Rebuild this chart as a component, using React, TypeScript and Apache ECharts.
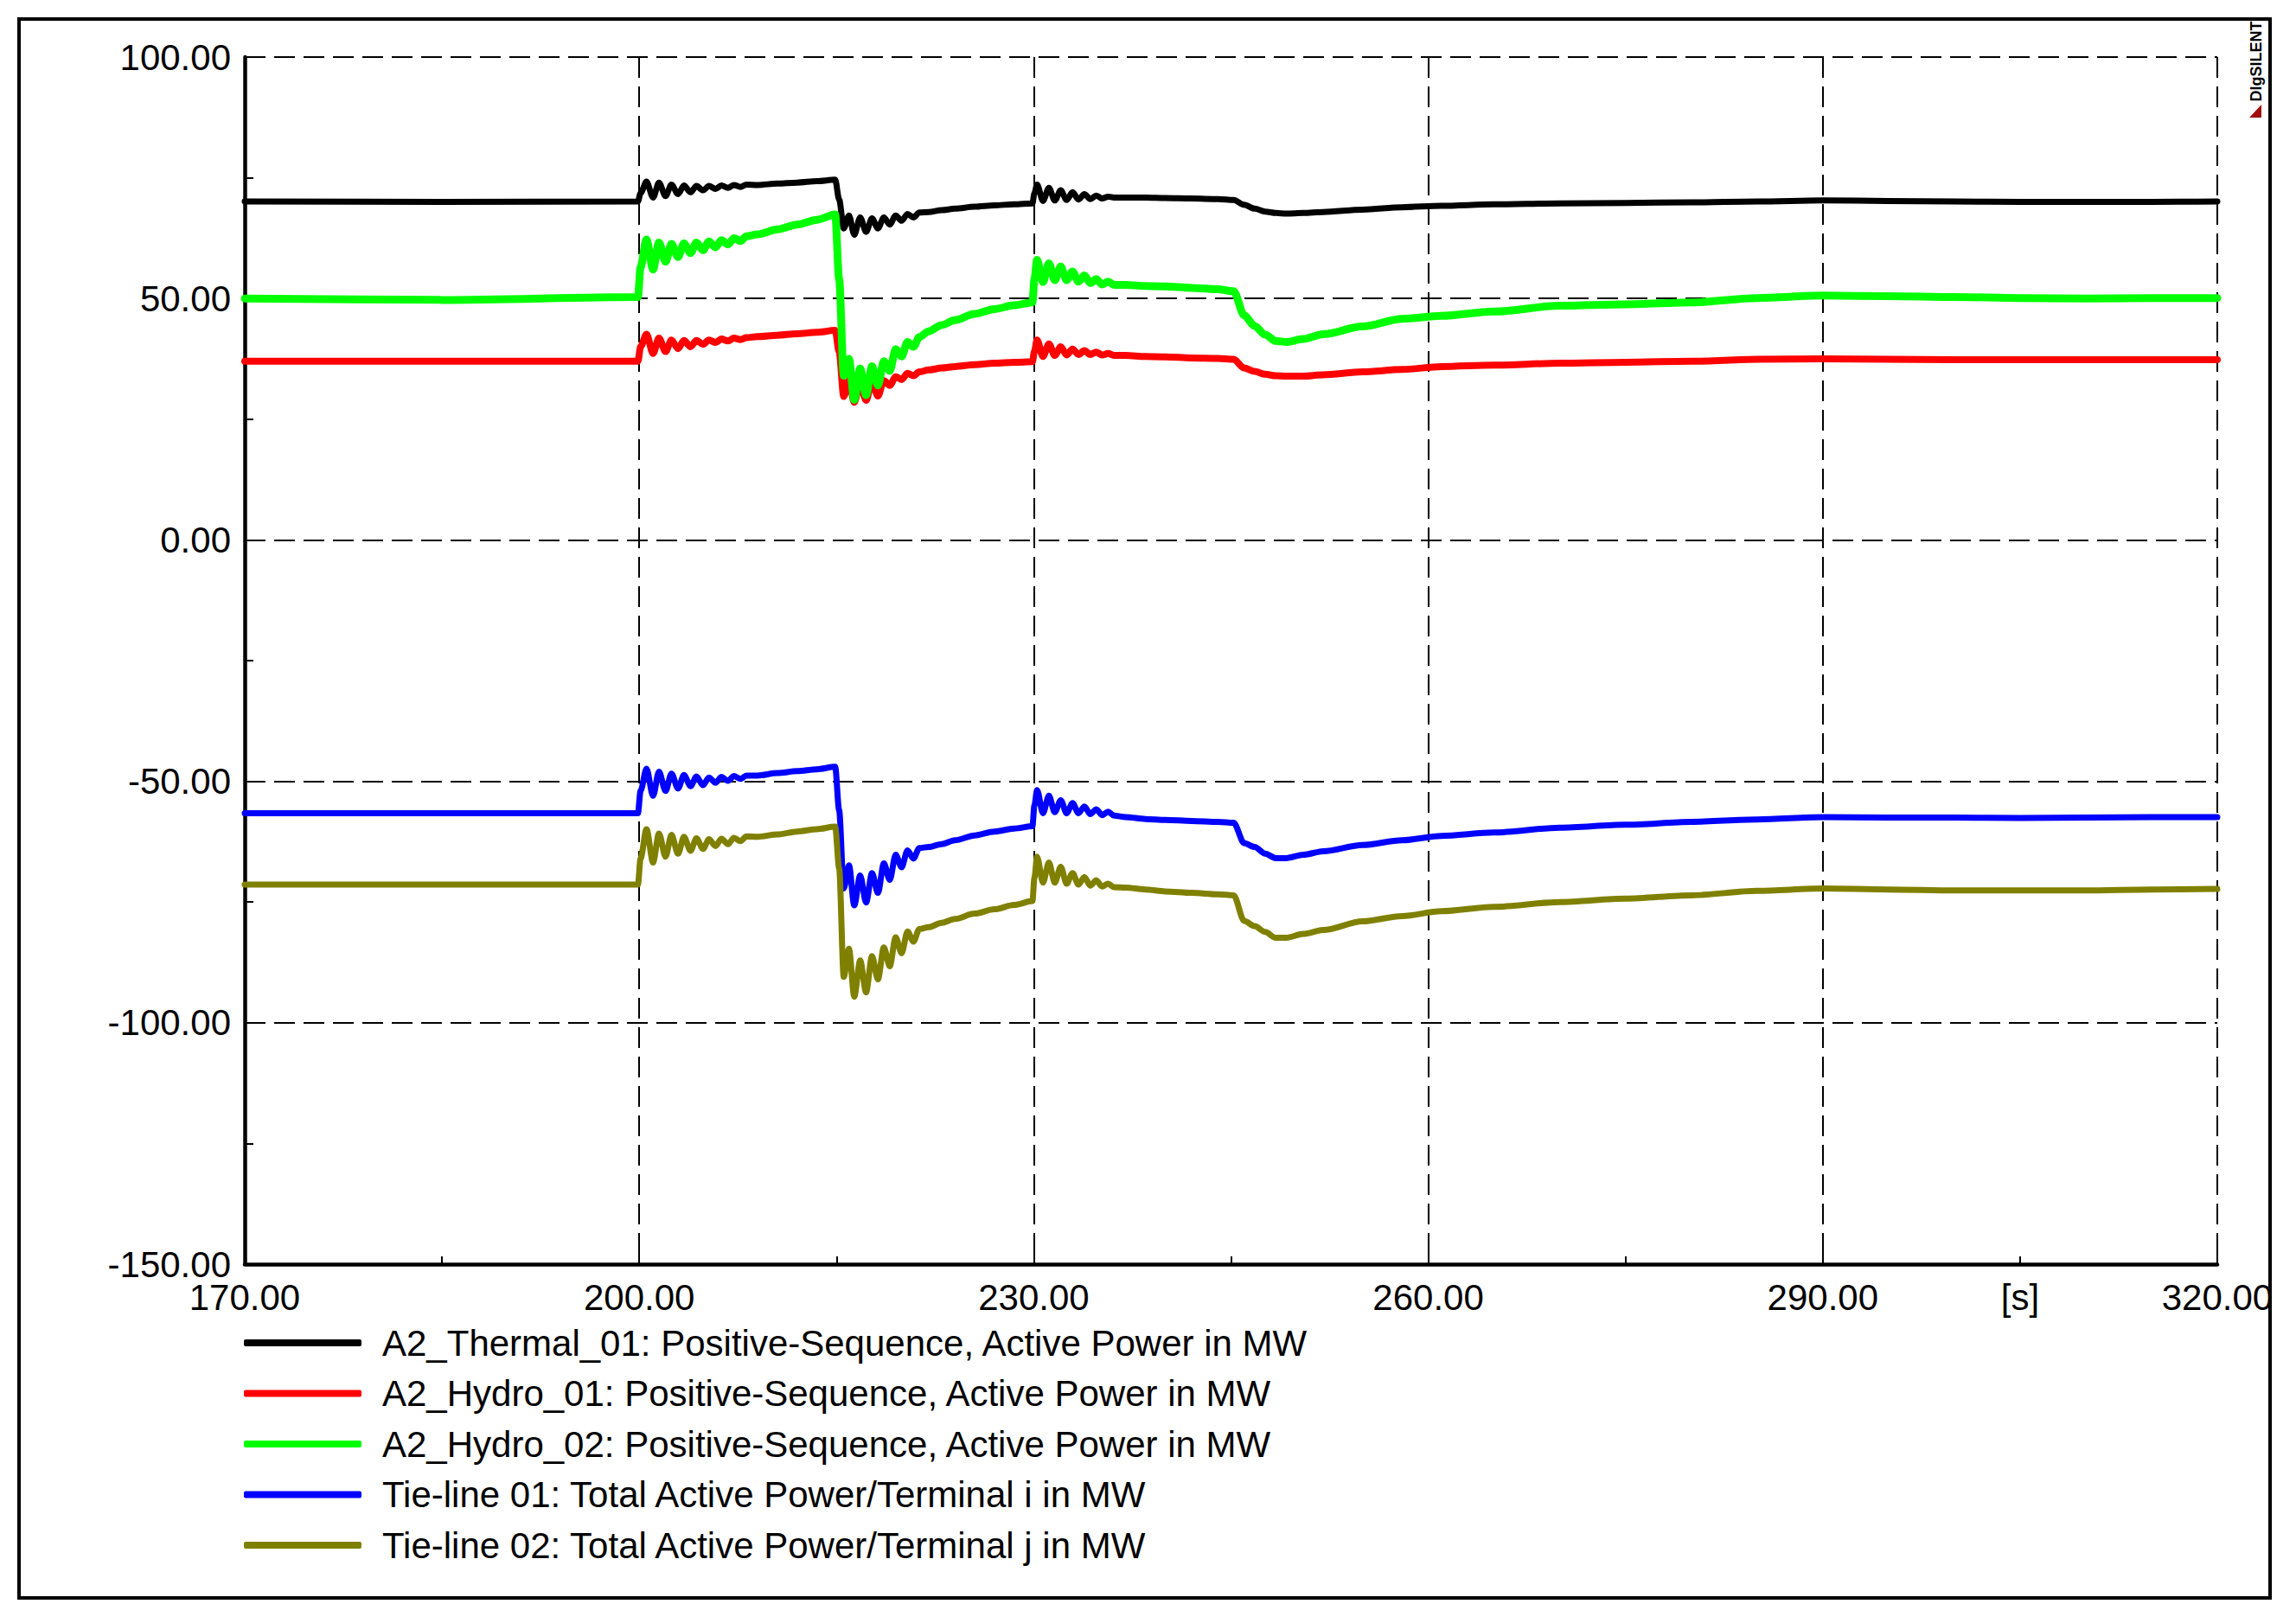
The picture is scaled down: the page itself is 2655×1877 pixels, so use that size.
import React, { useEffect, useRef } from "react";
import * as echarts from "echarts";

// ---- data ----
const time = [
  170, 185, 199.9,
  200.1, 200.55, 201.05, 201.5, 202.0, 202.45, 202.95, 203.4, 203.9, 204.35, 204.85, 205.3, 205.8, 206.25, 206.75, 207.2, 207.7, 208.15,
  209, 210.5, 212, 213.5, 214.9,
  215.2, 215.55, 215.95, 216.35, 216.8, 217.25, 217.7, 218.15, 218.6, 219.05, 219.5, 219.95, 220.4, 220.85, 221.3,
  222, 223, 224, 225.5, 227, 228.5, 229.9,
  230.05, 230.25, 230.7, 231.15, 231.6, 232.05, 232.5, 232.95, 233.4, 233.85, 234.3, 234.75, 235.2, 235.65, 236.1,
  237, 238.5, 240, 242, 244, 245.2,
  246, 246.8, 247.6, 248.4, 249.2, 250.5, 252, 255, 258, 261, 265, 270, 275, 280, 285, 290, 295, 300, 305, 310, 315, 320,
];

const thermal01 = [
  70.1, 70.0, 70.1,
  71.8, 74.2, 70.9, 74.0, 71.2, 73.6, 71.6, 73.4, 72.0, 73.3, 72.4, 73.3, 72.7, 73.4, 72.9, 73.5, 73.1, 73.6,
  73.5, 73.8, 74.0, 74.3, 74.6,
  70.5, 64.5, 67.2, 63.2, 66.8, 63.8, 66.6, 64.5, 66.8, 65.3, 67.2, 66.1, 67.5, 66.8, 67.8,
  67.9, 68.3, 68.6, 69.0, 69.3, 69.5, 69.7,
  71.8, 73.6, 70.2, 72.9, 70.3, 72.4, 70.4, 72.0, 70.5, 71.6, 70.6, 71.3, 70.7, 71.1, 70.9,
  70.9, 70.9, 70.8, 70.7, 70.6, 70.4,
  69.4, 68.6, 68.0, 67.7, 67.6, 67.7, 67.9, 68.4, 68.9, 69.2, 69.5, 69.7, 69.8, 69.9, 70.1, 70.3, 70.2, 70.1, 70.0, 70.0, 70.0, 70.1,
];

const hydro01 = [
  37.0, 37.0, 37.0,
  40.0, 42.6, 38.6, 41.8, 39.0, 41.4, 39.6, 41.3, 40.0, 41.3, 40.5, 41.4, 40.9, 41.6, 41.2, 41.8, 41.5, 41.9,
  42.1, 42.4, 42.7, 43.0, 43.4,
  39.0, 29.7, 33.0, 28.5, 32.5, 28.9, 32.8, 29.8, 33.0, 32.0, 33.8, 33.2, 34.5, 34.0, 34.8,
  35.2, 35.6, 35.9, 36.3, 36.6, 36.8, 36.9,
  39.0, 41.4, 38.0, 40.6, 38.2, 40.0, 38.3, 39.5, 38.4, 39.2, 38.4, 38.9, 38.3, 38.6, 38.2,
  38.2, 38.0, 37.9, 37.7, 37.6, 37.4,
  35.6, 34.9, 34.3, 34.0, 33.9, 33.9, 34.2, 34.8, 35.3, 35.9, 36.2, 36.6, 36.8, 37.0, 37.4, 37.5, 37.4, 37.3, 37.3, 37.3, 37.3, 37.3,
];

const hydro02 = [
  50.0, 49.7, 50.3,
  56.5, 62.2, 56.0, 61.6, 57.6, 61.3, 58.6, 61.4, 59.4, 61.6, 60.0, 61.8, 60.6, 62.1, 61.2, 62.5, 61.9, 62.9,
  63.3, 64.3, 65.3, 66.3, 67.4,
  54.0, 34.0, 37.5, 29.0, 35.5, 30.0, 36.0, 32.0, 37.0, 35.0, 39.5, 38.0, 41.0, 40.0, 42.0,
  43.2, 44.5, 45.5, 46.8, 47.8, 48.6, 49.2,
  54.0, 58.0, 53.4, 57.3, 53.8, 56.6, 53.8, 55.6, 53.5, 54.8, 53.2, 54.0, 52.9, 53.5, 52.8,
  52.8, 52.6, 52.5, 52.2, 51.9, 51.5,
  46.5, 44.3, 42.5, 41.2, 41.0, 41.6, 42.6, 44.2, 45.8, 46.4, 47.3, 48.5, 48.8, 49.2, 50.1, 50.6, 50.5, 50.3, 50.1, 50.0, 50.1, 50.1,
];

const tieLine01 = [
  -56.6, -56.6, -56.6,
  -52.0, -47.4, -53.0, -48.0, -52.0, -48.4, -51.5, -48.7, -51.0, -49.0, -50.8, -49.2, -50.3, -49.1, -49.9, -48.9, -49.5, -48.8,
  -48.8, -48.3, -47.9, -47.5, -47.0,
  -56.0, -72.2, -67.4, -75.7, -69.5, -75.1, -69.0, -73.1, -67.0, -70.4, -65.2, -67.8, -64.3, -66.0, -63.8,
  -63.6, -63.0, -62.2, -61.2, -60.4, -59.8, -59.3,
  -55.0, -51.8, -56.6, -53.0, -56.4, -53.9, -56.6, -54.5, -56.6, -55.2, -56.8, -55.8, -57.0, -56.3, -57.1,
  -57.4, -57.8, -58.0, -58.2, -58.4, -58.6,
  -62.8, -63.6, -65.0, -65.9, -65.9, -65.2, -64.5, -63.2, -62.2, -61.3, -60.6, -59.6, -59.0, -58.4, -57.9, -57.4, -57.5, -57.5, -57.6, -57.5, -57.4, -57.4,
];

const tieLine02 = [
  -71.4, -71.4, -71.4,
  -66.0, -59.9, -66.8, -60.8, -65.6, -61.1, -65.0, -61.5, -64.4, -61.8, -64.0, -62.0, -63.4, -61.9, -63.0, -61.7, -62.4, -61.4,
  -61.5, -61.0, -60.4, -59.9, -59.4,
  -68.0, -90.5, -84.7, -94.6, -87.1, -93.7, -86.2, -91.0, -84.4, -88.3, -82.3, -85.6, -81.1, -83.2, -80.6,
  -80.2, -79.3, -78.5, -77.4, -76.5, -75.6, -74.8,
  -70.0, -65.6, -71.0, -66.8, -71.0, -67.7, -71.2, -69.0, -71.4, -69.8, -71.6, -70.5, -71.8, -71.2, -71.9,
  -72.0, -72.4, -72.8, -73.1, -73.4, -73.6,
  -78.9, -80.0, -81.2, -82.4, -82.4, -81.6, -80.8, -79.0, -77.9, -76.9, -76.0, -75.0, -74.3, -73.6, -72.7, -72.2, -72.4, -72.6, -72.6, -72.6, -72.4, -72.3,
];

const seriesNames = [
  "A2_Thermal_01: Positive-Sequence, Active Power in MW",
  "A2_Hydro_01: Positive-Sequence, Active Power in MW",
  "A2_Hydro_02: Positive-Sequence, Active Power in MW",
  "Tie-line 01: Total Active Power/Terminal i in MW",
  "Tie-line 02: Total Active Power/Terminal j in MW",
];
const seriesValues = [thermal01, hydro01, hydro02, tieLine01, tieLine02];
const seriesColors = ["#000000", "#ff0000", "#00ff00", "#0000ff", "#808000"];
const seriesWidths = [7, 8, 9, 7, 7];

const xMin = 170;
const xMax = 320;
const xStep = 30;
const xUnitLabel = "[s]";
const xUnitAt = 305;
const yMin = -150;
const yMax = 100;
const yStep = 50;
const logoText = "DIgSILENT";

const FONT = "Liberation Sans, Arial, Helvetica, sans-serif";
const FS = 42;

export default function App() {
  const ref = useRef<HTMLDivElement>(null);

  useEffect(() => {
    if (!ref.current) return;
    const chart = echarts.init(ref.current, undefined, { renderer: "svg" });

    const gridLine = { color: "#000", width: 2, type: [24, 10] as any };

    const option: any = {
      animation: false,
      backgroundColor: "#ffffff",
      grid: {
        left: 283,
        top: 66,
        width: 2281,
        height: 1396,
        containLabel: false,
        outerBoundsMode: "none",
      },
      legend: {
        orient: "vertical",
        left: 282,
        top: 1532,
        padding: 0,
        itemWidth: 136,
        itemHeight: 8,
        itemGap: 16.5,
        icon: "roundRect",
        selectedMode: false,
        data: seriesNames,
        formatter: (name: string) => "{g| }" + name,
        textStyle: {
          fontSize: FS,
          fontFamily: FONT,
          color: "#000",
          rich: { g: { width: 19, fontSize: FS } },
        },
      },
      xAxis: [
        {
          // data axis (real time values)
          type: "value",
          min: xMin,
          max: xMax,
          show: false,
        },
        {
          // display axis: offset so that ticks start from zero
          type: "value",
          position: "bottom",
          min: 0,
          max: xMax - xMin,
          interval: xStep,
          axisLine: { show: true, onZero: false, lineStyle: { color: "#000", width: 4.5 } },
          axisTick: { show: true, inside: true, length: 20, lineStyle: { color: "#000", width: 2 } },
          minorTick: { show: true, splitNumber: 2, length: 9, lineStyle: { color: "#000", width: 2 } },
          splitLine: { show: true, lineStyle: gridLine },
          axisLabel: {
            show: true,
            margin: 17,
            fontSize: FS,
            fontFamily: FONT,
            color: "#000",
            showMinLabel: true,
            showMaxLabel: true,
            formatter: (v: number) => (v + xMin).toFixed(2),
          },
        },
        {
          // unit label axis
          type: "value",
          position: "bottom",
          min: 0,
          max: xMax - xMin,
          interval: xStep / 2,
          axisLine: { show: false, onZero: false },
          axisTick: { show: false },
          splitLine: { show: false },
          axisLabel: {
            show: true,
            margin: 17,
            fontSize: FS,
            fontFamily: FONT,
            color: "#000",
            formatter: (v: number) => (Math.abs(v + xMin - xUnitAt) < 1e-6 ? xUnitLabel : ""),
          },
        },
      ],
      yAxis: {
        type: "value",
        min: yMin,
        max: yMax,
        interval: yStep,
        axisLine: { show: true, onZero: false, lineStyle: { color: "#000", width: 4.5 } },
        axisTick: { show: true, inside: true, length: 20, lineStyle: { color: "#000", width: 2 } },
        minorTick: { show: true, splitNumber: 2, length: 10, lineStyle: { color: "#000", width: 2 } },
        splitLine: { show: true, lineStyle: gridLine },
        axisLabel: {
          margin: 16,
          fontSize: FS,
          fontFamily: FONT,
          color: "#000",
          showMinLabel: true,
          showMaxLabel: true,
          formatter: (v: number) => v.toFixed(2),
        },
      },
      series: seriesNames.map((name, i) => ({
        type: "line",
        name,
        xAxisIndex: 0,
        yAxisIndex: 0,
        data: time.map((t, j) => [t, seriesValues[i][j]]),
        showSymbol: false,
        symbol: "none",
        smooth: 0.3,
        smoothMonotone: "x",
        color: seriesColors[i],
        itemStyle: { color: seriesColors[i] },
        lineStyle: { color: seriesColors[i], width: seriesWidths[i], cap: "round", join: "round" },
        emphasis: { disabled: true },
      })),
      graphic: [
        {
          type: "rect",
          z: 99,
          silent: true,
          shape: { x: 2627.5, y: 0, width: 40, height: 1877 },
          style: { fill: "#ffffff" },
        },
        {
          type: "rect",
          z: 100,
          silent: true,
          shape: { x: 22, y: 22, width: 2603, height: 1826 },
          style: { fill: "none", stroke: "#000", lineWidth: 4 },
        },
        {
          type: "text",
          z: 100,
          silent: true,
          x: 2609,
          y: 71,
          rotation: Math.PI / 2,
          style: {
            text: logoText,
            fontSize: 18,
            fontWeight: "bold",
            fontFamily: FONT,
            fill: "#000",
            align: "center",
            verticalAlign: "middle",
          },
        },
        {
          type: "polygon",
          z: 100,
          silent: true,
          shape: { points: [[2601, 136], [2615, 121], [2615, 136]] },
          style: { fill: "#a01010" },
        },
      ],
    };

    chart.setOption(option);
    return () => chart.dispose();
  }, []);

  return (
    <div
      ref={ref}
      style={{ position: "fixed", left: 0, top: 0, width: "2655px", height: "1877px", background: "#fff" }}
    />
  );
}
